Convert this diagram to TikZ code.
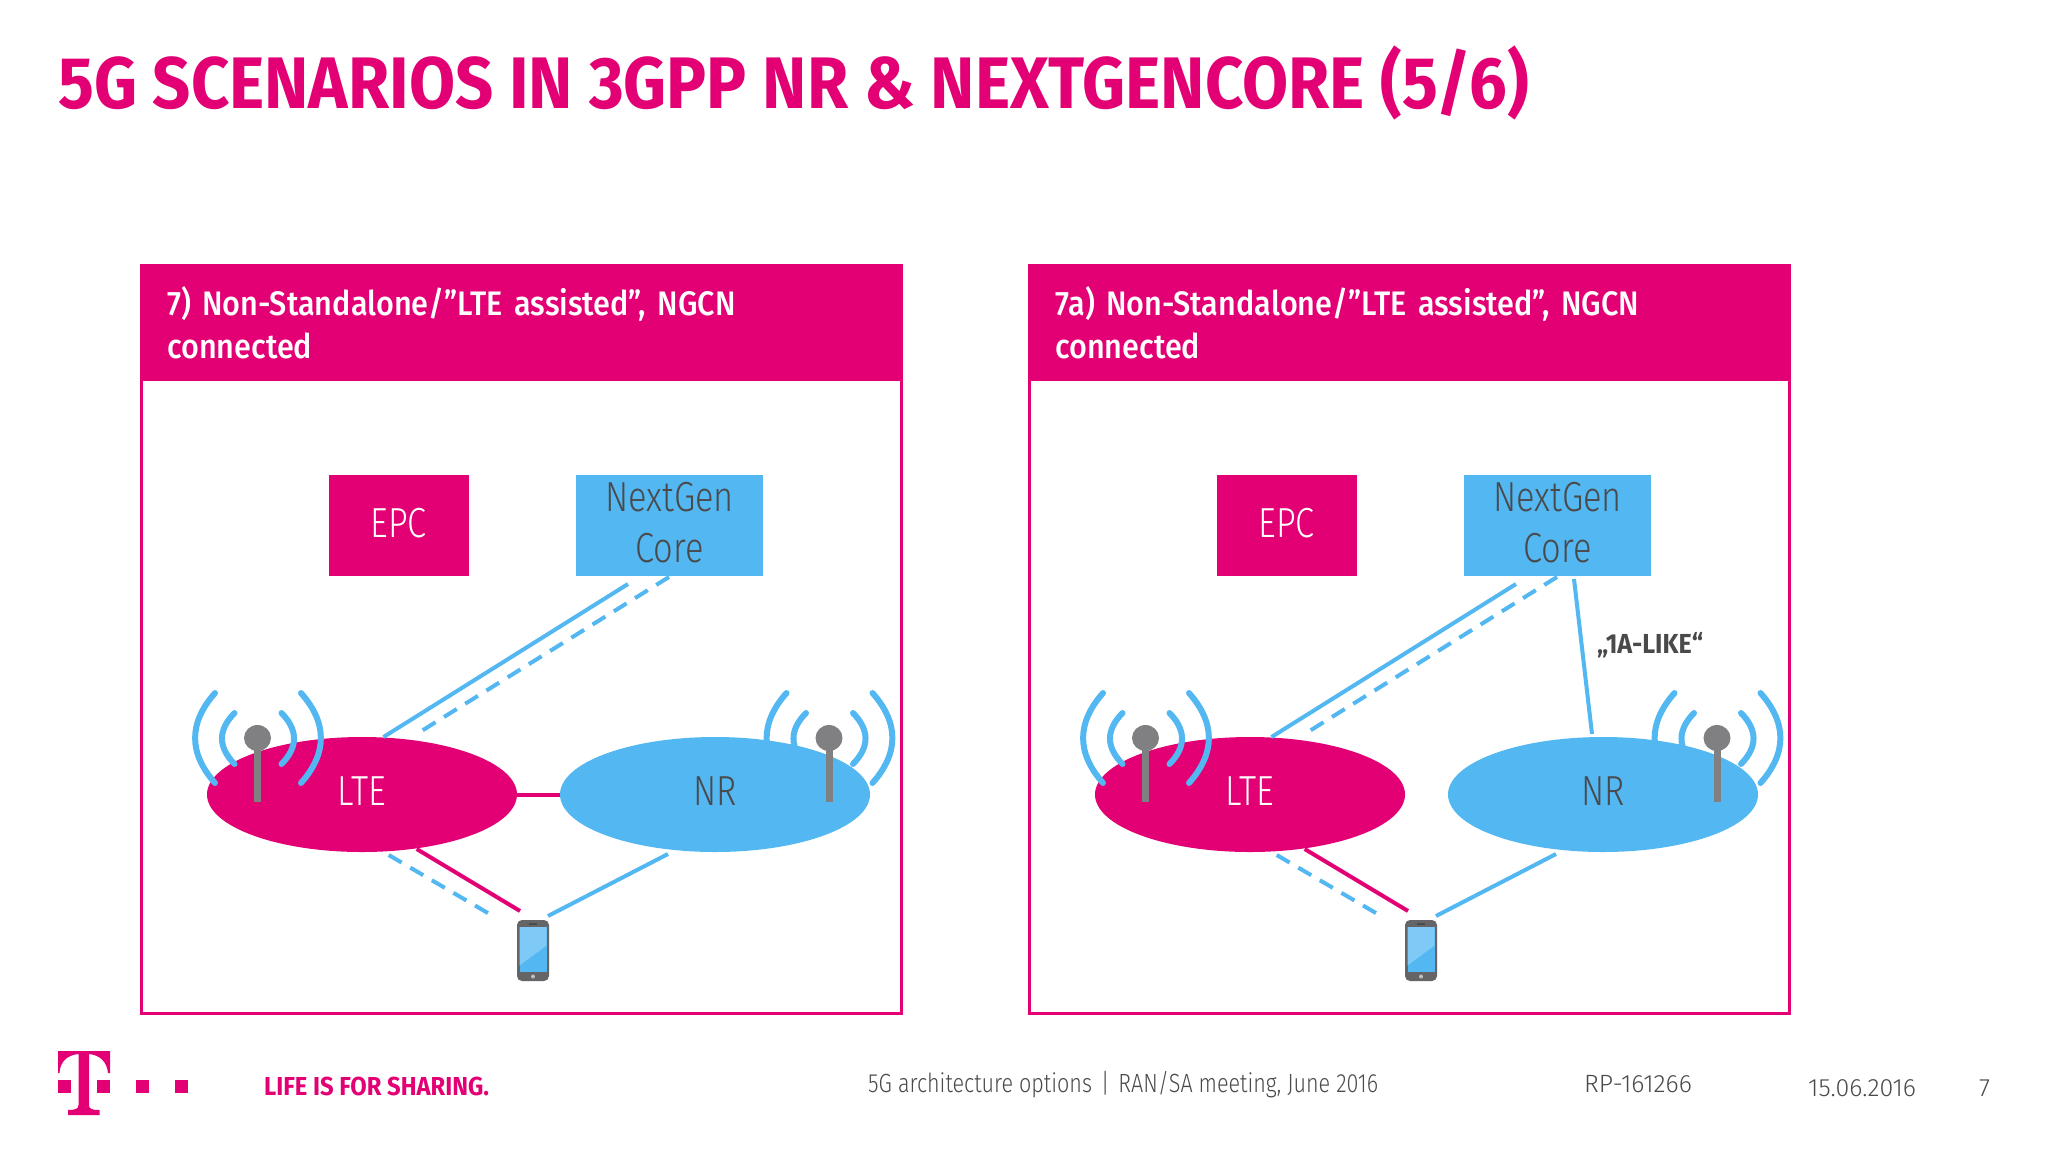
\documentclass[tikz,border=0pt]{standalone}
\usepackage{fontspec}
\usepackage{xcolor}
\usepackage{tikz}
\usetikzlibrary{positioning, shapes.geometric}
\newfontfamily\titlefont[FakeStretch=0.915]{Fira Sans}
\newfontfamily\thinfont[FakeStretch=0.82,UprightFont=* Light]{Fira Sans}
\newfontfamily\numfont[FakeStretch=1.0,UprightFont=* Light]{Fira Sans}
\newfontfamily\headfont[FakeStretch=0.9,UprightFont=* Medium]{Fira Sans}
\setmainfont[FakeStretch=0.82]{Fira Sans}
\definecolor{tpink}{HTML}{E20074}
\definecolor{tblue}{HTML}{53B7F1}
\definecolor{tgray}{HTML}{4A4A4C}
\definecolor{tant}{HTML}{808083}
\begin{document}
\begin{tikzpicture}[x=1pt,y=-1pt]
	\tikzstyle{panel}=[draw=tpink,line width=3pt,fill=white]
	\tikzstyle{header}=[anchor=north west,fill=tpink,text=white,minimum width=761pt,minimum height=116pt,inner xsep=27pt,text width=707pt,align=left,font=\fontsize{34}{43}\headfont]
	\tikzstyle{epcbox}=[fill=tpink,text=white,minimum width=140pt,minimum height=101pt,inner sep=0pt,text depth=6pt,font=\fontsize{42}{51}\thinfont]
	\tikzstyle{corebox}=[fill=tblue,text=tgray,minimum width=187pt,minimum height=101pt,inner sep=0pt,text depth=6pt,align=center,font=\fontsize{42}{51}\thinfont]
	\tikzstyle{lteblob}=[ellipse,fill=tpink,text=white,minimum width=310pt,minimum height=115pt,inner sep=0pt,text depth=6pt,font=\fontsize{42}{46}\thinfont]
	\tikzstyle{nrblob}=[ellipse,fill=tblue,text=tgray,minimum width=310pt,minimum height=115pt,inner sep=0pt,text depth=6pt,font=\fontsize{42}{46}\thinfont]
	\tikzstyle{link}=[tblue,line width=4pt]
	\tikzstyle{dlink}=[tblue,line width=4pt,dash pattern=on 15pt off 10pt]
	\tikzstyle{plink}=[tpink,line width=4pt]
	\tikzstyle{foot}=[anchor=base west,inner sep=0pt,text=tgray,font=\fontsize{26.3}{30}\thinfont]
	\tikzstyle{numfoot}=[anchor=base west,inner sep=0pt,text=tgray,font=\fontsize{25}{30}\numfont]
	\tikzset{
		antenna/.pic={
			\draw[tblue,line width=6pt,line cap=round] (-42.5,-45) .. controls (-69,-15) and (-69,15) .. (-42.5,45);
			\draw[tblue,line width=6pt,line cap=round] (43.5,-45) .. controls (70,-15) and (70,15) .. (43.5,45);
			\draw[tblue,line width=6pt,line cap=round] (-23,-25) .. controls (-39.7,-8) and (-39.7,9) .. (-23,26);
			\draw[tblue,line width=6pt,line cap=round] (24,-25) .. controls (40.7,-8) and (40.7,9) .. (24,26);
			\fill[tant] (-3.5,0) rectangle (3.5,64);
			\fill[tant] (0,0) ellipse [x radius=13.5pt,y radius=13pt];
		},
		handset/.pic={
			\fill[tgray!85,rounded corners=5pt] (-16,-30.5) rectangle (16,30.5);
			\fill[tblue] (-13.5,-23.5) rectangle (13.5,21.5);
			\fill[tblue!75!white] (-13.5,-23.5) -- (13.5,-23.5) -- (13.5,-5) -- (-13.5,15) -- cycle;
			\fill[black!70] (-4,-28) rectangle (4,-25.5);
			\fill[black!25] (0,26) circle (2pt);
		}
	}
	\useasboundingbox (0,0) rectangle (2048,1152);
	\fill[white] (0,0) rectangle (2048,1152);
	\node[anchor=base west,inner sep=0pt,text=tpink,font=\fontsize{73}{80}\titlefont\bfseries](title) at (58,108) {5G SCENARIOS IN 3GPP NR \& NEXTGENCORE (5/6)};

	% left panel
	\draw[panel] (141,265) rectangle (901,1013);
	\node[header](head1) at (140,265) {7) Non-Standalone/”LTE assisted”, NGCN\\connected};
	\node[epcbox](epc1) at (398.5,525.5) {EPC};
	\node[corebox](core1) at (669.5,525.5) {NextGen\\Core};
	\node[lteblob](lte1) at (362,794.5) {LTE};
	\node[nrblob](nr1) at (715,794.5) {NR};
	\coordinate (core1s) at (628,584);
	\coordinate (core1d) at (669,577);
	\coordinate (lte1s) at (383.5,737);
	\coordinate (lte1d) at (415,735);
	\coordinate (lte1p) at (416.7,849);
	\coordinate (lte1b) at (388.7,855);
	\coordinate (nr1b) at (668,854);
	\coordinate (ue1p) at (520,911);
	\coordinate (ue1d) at (493,916);
	\coordinate (ue1s) at (548,916);
	\draw[link](core1s) -- (lte1s);
	\draw[dlink](core1d) -- (lte1d);
	\draw[plink](lte1) -- (nr1);
	\draw[plink](lte1p) -- (ue1p);
	\draw[dlink](lte1b) -- (ue1d);
	\draw[link](nr1b) -- (ue1s);
	\pic at (257.5,738) {antenna};
	\pic at (829,738) {antenna};
	\pic at (533,950.5) {handset};

	% right panel
	\draw[panel] (1029,265) rectangle (1789,1013);
	\node[header](head2) at (1028,265) {7a) Non-Standalone/”LTE assisted”, NGCN\\connected};
	\node[epcbox](epc2) at (1286.5,525.5) {EPC};
	\node[corebox](core2) at (1557.5,525.5) {NextGen\\Core};
	\node[lteblob](lte2) at (1250,794.5) {LTE};
	\node[nrblob](nr2) at (1603,794.5) {NR};
	\coordinate (core2s) at (1516,584);
	\coordinate (core2d) at (1557,577);
	\coordinate (core2n) at (1574,579);
	\coordinate (lte2s) at (1271.5,737);
	\coordinate (lte2d) at (1303,735);
	\coordinate (nr2t) at (1592,734);
	\coordinate (lte2p) at (1304.7,849);
	\coordinate (lte2b) at (1276.7,855);
	\coordinate (nr2b) at (1556,854);
	\coordinate (ue2p) at (1408,911);
	\coordinate (ue2d) at (1381,916);
	\coordinate (ue2s) at (1436,916);
	\draw[link](core2s) -- (lte2s);
	\draw[dlink](core2d) -- (lte2d);
	\draw[link](core2n) -- (nr2t);
	\draw[plink](lte2p) -- (ue2p);
	\draw[dlink](lte2b) -- (ue2d);
	\draw[link](nr2b) -- (ue2s);
	\pic at (1145.5,738) {antenna};
	\pic at (1717,738) {antenna};
	\pic at (1421,950.5) {handset};
	\node[text=tgray,inner sep=0pt,font=\fontsize{27.5}{30}\titlefont\bfseries](likelabel) at (1650,645) {„1A-LIKE“};

	% logo and footer
	\fill[tpink] (58,1051) -- (110,1051) -- (110,1073) -- (108,1073) .. controls (107,1062) and (100,1055) .. (89,1054) -- (89,1105) .. controls (89,1109) and (92,1110) .. (99.5,1110) -- (99.5,1115) -- (68,1115) -- (68,1110) .. controls (75,1110) and (78.5,1109) .. (78.5,1105) -- (78.5,1054) .. controls (67,1055) and (60,1062) .. (59.5,1073) -- (58,1073) -- cycle;
	\fill[tpink] (58,1080) rectangle (71,1093);
	\fill[tpink] (97,1080) rectangle (110,1093);
	\fill[tpink] (136,1080) rectangle (149,1093);
	\fill[tpink] (175,1080) rectangle (188,1093);
	\node[anchor=base west,inner sep=0pt,text=tpink,font=\fontsize{26}{30}\titlefont\bfseries](slogan) at (264,1095) {LIFE IS FOR SHARING.};
	\node[foot](event) at (868,1092) {5G architecture options\,\,|\,\,RAN/SA meeting, June 2016};
	\node[numfoot](docnum) at (1584,1092) {RP-161266};
	\node[numfoot](datum) at (1808,1096) {15.06.2016};
	\node[numfoot](pagenum) at (1979,1096) {7};
\end{tikzpicture}
\end{document}
